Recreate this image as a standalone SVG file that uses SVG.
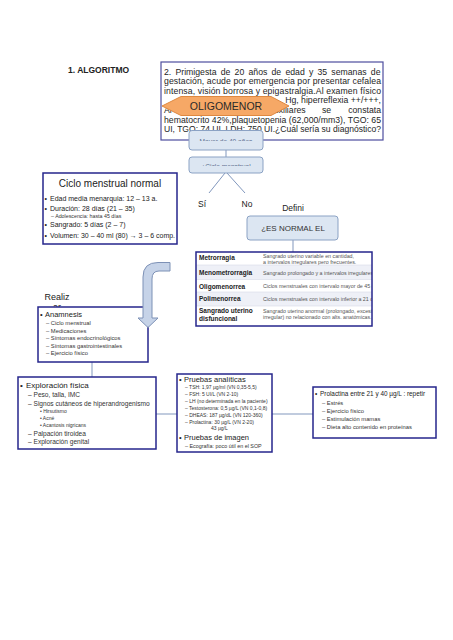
<svg xmlns="http://www.w3.org/2000/svg" width="453" height="640" viewBox="0 0 453 640">
<style>
text{font-family:"Liberation Sans",Arial,sans-serif;fill:#222}
.q{font-size:8.7px;fill:#1e1e1e}
.nb{fill:#fff;stroke:#26268c;stroke-width:1.5}
.lb{fill:#dce6f2;stroke:#8ba2c4;stroke-width:1}
.ln{stroke:#8197bd;stroke-width:1;fill:none}
.cl{font-size:6.6px;fill:#5d6f8f}
.b1{font-size:7px}
.sub{font-size:5.8px;fill:#333}
.tl{font-size:6.5px;font-weight:bold;fill:#222}
.td{font-size:5.3px;fill:#555}
.pr{font-size:5px;fill:#333}
.lab{font-size:8.5px;fill:#222}
</style>
<defs>
<clipPath id="cMay"><rect x="189" y="130" width="74" height="11"/></clipPath>
<clipPath id="cCic"><rect x="189" y="157" width="74" height="9"/></clipPath>
<clipPath id="cEs"><rect x="247" y="216" width="91" height="21.5"/></clipPath>
<clipPath id="cTab"><rect x="196" y="252" width="176" height="74"/></clipPath>
</defs>
<rect width="453" height="640" fill="#fff"/>

<g id="title"><text x="68" y="73" style="font-size:8.5px;font-weight:bold">1.  ALGORITMO</text></g>

<g id="question">
<rect x="161" y="62" width="222" height="78" fill="#fff" stroke="#4e4e9e" stroke-width="1.2"/>
<text class="q" x="164" y="74.5" word-spacing="1.8">2. Primigesta de 20 años de edad y 35 semanas de</text>
<text class="q" x="164" y="84.1" textLength="217" lengthAdjust="spacing">gestación, acude por emergencia por presentar cefalea</text>
<text class="q" x="164" y="93.7" textLength="217" lengthAdjust="spacing">intensa, visión borrosa y epigastralgia.Al examen físico</text>
<text class="q" x="381" y="103.3" text-anchor="end">Hg, hiperreflexia ++/+++,</text>
<text class="q" x="164" y="112.9">Al</text>
<text class="q" x="269" y="112.9">auxiliares</text>
<text class="q" x="322" y="112.9">se</text>
<text class="q" x="381" y="112.9" text-anchor="end">constata</text>
<text class="q" x="164" y="122.5" textLength="217" lengthAdjust="spacing">hematocrito 42%,plaquetopenia (62,000/mm3), TGO: 65</text>
<text class="q" x="164" y="132.4" textLength="217" lengthAdjust="spacingAndGlyphs">UI, TGO: 74 UI, LDH: 750 UI.¿Cuál sería su diagnóstico?</text>
</g>

<g id="oligomenor">
<polygon points="162,106 181,96.5 271,96.5 289,106 271,115.5 181,115.5" fill="#f6a866" stroke="#de8840" stroke-width="1"/>
<text x="226" y="109.8" text-anchor="middle" style="font-size:10.5px;fill:#2a2a2a">OLIGOMENOR</text>
</g>

<g id="connectors">
<line class="ln" x1="226" y1="150" x2="226" y2="157"/>
<line class="ln" x1="225" y1="173" x2="209" y2="193"/>
<line class="ln" x1="227" y1="173" x2="245" y2="193"/>
<line class="ln" x1="293" y1="240" x2="293" y2="252"/>
<line class="ln" x1="92" y1="362" x2="92" y2="377"/>
<line class="ln" x1="156" y1="414" x2="177" y2="414"/>
<line class="ln" x1="272" y1="414" x2="313" y2="414"/>
</g>

<g id="mayor">
<rect class="lb" x="189" y="130.5" width="74" height="19.5" rx="3"/>
<text class="cl" x="226" y="143.5" text-anchor="middle" clip-path="url(#cMay)">Mayor de 40 años</text>
</g>

<g id="ciclo">
<rect class="lb" x="189" y="157" width="74" height="16" rx="3"/>
<text class="cl" x="226" y="168.5" text-anchor="middle" clip-path="url(#cCic)">¿Ciclo menstrual</text>
</g>

<g id="si"><text class="lab" x="202" y="207" text-anchor="middle">Sí</text></g>
<g id="no"><text class="lab" x="247" y="207" text-anchor="middle">No</text></g>
<g id="defini"><text class="lab" x="293" y="211" text-anchor="middle">Defini</text></g>

<g id="esnormal">
<rect class="lb" x="247" y="216" width="91" height="24" rx="3"/>
<text x="293" y="231" text-anchor="middle" style="font-size:8px;fill:#333">¿ES NORMAL EL</text>
<text x="293" y="242.5" text-anchor="middle" clip-path="url(#cEs)" style="font-size:8px;fill:#333">CICLO MENSTRUAL?</text>
</g>

<g id="cicloNormal">
<rect class="nb" x="43" y="173" width="134" height="71"/>
<text x="110" y="187" text-anchor="middle" style="font-size:10px">Ciclo menstrual normal</text>
<text class="b1" x="44.5" y="201">•</text><text class="b1" x="50" y="201">Edad media menarquia: 12 – 13 a.</text>
<text class="b1" x="44.5" y="210.5">•</text><text class="b1" x="50" y="210.5">Duración: 28 días (21 – 35)</text>
<text x="51" y="218" style="font-size:5.3px;fill:#333">– Adolescencia: hasta 45 días</text>
<text class="b1" x="44.5" y="226.5">•</text><text class="b1" x="50" y="226.5">Sangrado: 5 días (2 – 7)</text>
<text class="b1" x="44.5" y="238">•</text><text class="b1" x="50" y="238" textLength="125" lengthAdjust="spacingAndGlyphs">Volumen: 30 – 40 ml (80) → 3 – 6 comp.</text>
</g>

<g id="table">
<rect x="196" y="252" width="176" height="74" fill="#fff"/>
<rect x="196" y="265" width="176" height="14.5" fill="#eef0f7"/>
<rect x="196" y="292" width="176" height="14" fill="#eef0f7"/>
<g stroke="#d6dae8" stroke-width="0.6">
<line x1="196" y1="265" x2="372" y2="265"/><line x1="196" y1="279.5" x2="372" y2="279.5"/>
<line x1="196" y1="292" x2="372" y2="292"/><line x1="196" y1="306" x2="372" y2="306"/>
</g>
<g clip-path="url(#cTab)">
<text class="tl" x="199" y="260">Metrorragia</text>
<text class="td" x="263" y="258">Sangrado uterino variable en cantidad,</text>
<text class="td" x="263" y="264">a intervalos irregulares pero frecuentes.</text>
<text class="tl" x="199" y="275">Menometrorragia</text>
<text class="td" x="263" y="274.5">Sangrado prolongado y a intervalos irregulares.</text>
<text class="tl" x="199" y="288.5">Oligomenorrea</text>
<text class="td" x="263" y="288">Ciclos menstruales con intervalo mayor de 45 d.</text>
<text class="tl" x="199" y="301">Polimenorrea</text>
<text class="td" x="263" y="300.5">Ciclos menstruales con intervalo inferior a 21 d.</text>
<text class="tl" x="199" y="313">Sangrado uterino</text>
<text class="tl" x="199" y="320.5">disfuncional</text>
<text class="td" x="263" y="312.5">Sangrado uterino anormal (prolongado, excesivo,</text>
<text class="td" x="263" y="319">irregular) no relacionado con alts. anatómicas.</text>
</g>
<rect x="196" y="252" width="176" height="74" fill="none" stroke="#26268c" stroke-width="1.5"/>
</g>

<g id="realizar">
<text x="57" y="300" text-anchor="middle" style="font-size:9px">Realiz</text>
<text x="57" y="309.5" text-anchor="middle" style="font-size:9px">ar</text>
</g>

<g id="anamnesis">
<rect class="nb" x="38" y="307" width="110" height="55"/>
<text x="40" y="317" style="font-size:7.5px">•</text><text x="45" y="317" style="font-size:7.5px">Anamnesis</text>
<text class="sub" x="46" y="325">– Ciclo menstrual</text>
<text class="sub" x="46" y="332.5">– Medicaciones</text>
<text class="sub" x="46" y="340">– Síntomas endocrinológicos</text>
<text class="sub" x="46" y="347.5">– Síntomas gastrointestinales</text>
<text class="sub" x="46" y="355">– Ejercicio físico</text>
</g>

<g id="arrow">
<path d="M170,262.5 L158,262.5 Q143,262.5 143,277 L143,318 L138,318 L148,327.5 L158,318 L152,318 L152,279 Q152,271 159,271 L170,271 Z" fill="#c6d3e8" stroke="#7d91b6" stroke-width="1"/>
</g>

<g id="exploracion">
<rect class="nb" x="18" y="377" width="138" height="72"/>
<text x="20" y="388" style="font-size:8px">•</text><text x="26" y="388" style="font-size:8px">Exploración física</text>
<text x="28" y="397" style="font-size:6.6px;fill:#333">– Peso, talla, IMC</text>
<text x="28" y="405.5" style="font-size:6.6px;fill:#333">– Signos cutáneos de hiperandrogenismo</text>
<text x="40" y="413" style="font-size:5px;fill:#333">• Hirsutismo</text>
<text x="40" y="420" style="font-size:5px;fill:#333">• Acné</text>
<text x="40" y="427" style="font-size:5px;fill:#333">• Acantosis nigricans</text>
<text x="28" y="435.5" style="font-size:6.6px;fill:#333">– Palpación tiroidea</text>
<text x="28" y="444" style="font-size:6.6px;fill:#333">– Exploración genital</text>
</g>

<g id="pruebas">
<rect class="nb" x="177" y="374" width="95" height="78"/>
<text x="179" y="382" style="font-size:7.5px">•</text><text x="184" y="382" style="font-size:7.5px">Pruebas analíticas</text>
<text class="pr" x="185" y="389">– TSH: 1,97 µg/ml (VN 0,35-5,5)</text>
<text class="pr" x="185" y="396">– FSH: 5 UI/L (VN 2-10)</text>
<text class="pr" x="185" y="403">– LH (no determinada en la paciente)</text>
<text class="pr" x="185" y="410">– Testosterona: 0,5 µg/L (VN 0,1-0,8)</text>
<text class="pr" x="185" y="417">– DHEAS: 187 µg/dL (VN 120-360)</text>
<text class="pr" x="185" y="424">– Prolactina: 30 µg/L (VN 2-20)</text>
<text class="pr" x="211" y="430">43 µg/L</text>
<text x="179" y="440" style="font-size:7.5px">•</text><text x="184" y="440" style="font-size:7.5px">Pruebas de imagen</text>
<text x="185" y="448" style="font-size:5.4px;fill:#333">– Ecografía: poco útil en el SOP</text>
</g>

<g id="prolactina">
<rect class="nb" x="313" y="387" width="123" height="51"/>
<text x="315" y="396" style="font-size:6.4px">•</text><text x="320" y="396" style="font-size:6.4px">Prolactina entre 21 y 40 µg/L : repetir</text>
<text class="sub" x="322" y="405">– Estrés</text>
<text class="sub" x="322" y="413">– Ejercicio físico</text>
<text class="sub" x="322" y="421">– Estimulación mamas</text>
<text class="sub" x="322" y="429">– Dieta alto contenido en proteínas</text>
</g>
</svg>
